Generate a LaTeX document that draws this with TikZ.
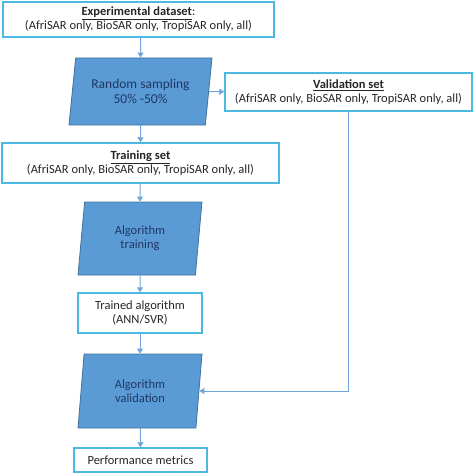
\documentclass[tikz,border=0pt]{standalone}
\usepackage{fontspec}
\setmainfont{Carlito}
\usetikzlibrary{shapes.geometric,arrows.meta}
\definecolor{boxline}{RGB}{75,185,225}
\definecolor{linkblue}{RGB}{112,164,218}
\definecolor{parafill}{RGB}{91,155,213}
\definecolor{paraline}{RGB}{65,113,156}
\definecolor{paratext}{RGB}{31,56,100}
\definecolor{boxtext}{RGB}{38,38,38}
\begin{document}
\begin{tikzpicture}[x=1pt,y=-1pt, every node/.style={font=\fontsize{12.5}{14}\selectfont},
  box/.style={draw=boxline,line width=1.5pt,fill=white,align=center,text=boxtext,inner sep=0pt},
  para/.style={trapezium,trapezium left angle=75,trapezium right angle=105,trapezium stretches body,
    draw=paraline,line width=0.8pt,fill=parafill,text=paratext,align=center,inner sep=0pt},
  link/.style={draw=linkblue,line width=1pt,-{Triangle[width=6pt,length=5pt]}}]
\useasboundingbox (0,0) rectangle (474,476);
\node[box,minimum width=271pt,minimum height=35pt] (expset) at (138.5,19.5) {\underline{\textbf{Experimental dataset}}:\\(AfriSAR only, BioSAR only, TropiSAR only, all)};
\node[para,minimum width=143pt,minimum height=67pt,font=\fontsize{13.5}{15.5}\selectfont] (sampling) at (140.5,91.5) {Random sampling\\50\% -50\%};
\node[box,minimum width=247pt,minimum height=38pt] (valset) at (348.5,92) {\underline{\textbf{Validation set}}\\(AfriSAR only, BioSAR only, TropiSAR only, all)};
\node[box,minimum width=277pt,minimum height=40pt] (trainset) at (140.5,163) {\underline{\textbf{Training set}}\\(AfriSAR only, BioSAR only, TropiSAR only, all)};
\node[para,minimum width=124pt,minimum height=73pt] (algtrain) at (140,238.5) {Algorithm\\training};
\node[box,minimum width=124pt,minimum height=40pt] (trained) at (140,313) {Trained algorithm\\(ANN/SVR)};
\node[para,minimum width=124pt,minimum height=74pt] (algval) at (140,391) {Algorithm\\validation};
\node[box,minimum width=133pt,minimum height=24pt] (metrics) at (140.5,460) {Performance metrics};
\draw[link] (expset.south -| sampling.north) -- (sampling);
\draw[link] (sampling) -- (valset);
\draw[link] (sampling) -- (trainset);
\draw[link] (trainset.south -| algtrain.north) -- (algtrain);
\draw[link] (algtrain) -- (trained);
\draw[link] (trained) -- (algval);
\draw[link] (algval) -- (metrics);
\draw[link] (valset) |- (algval);
\end{tikzpicture}
\end{document}
